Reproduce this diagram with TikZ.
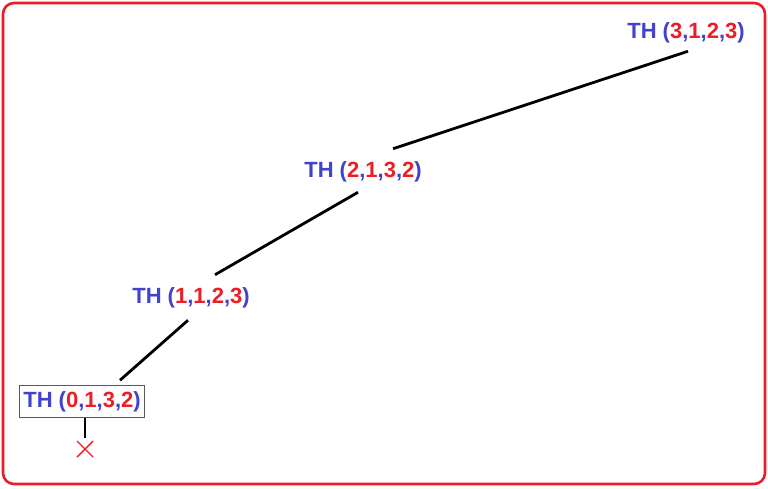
\documentclass[tikz,border=0pt]{standalone}
\usepackage{fontspec}
\setmainfont{Liberation Sans}
\definecolor{tblue}{RGB}{66,66,204}
\definecolor{tred}{RGB}{238,28,36}
\definecolor{frame}{RGB}{232,30,40}
\newcommand{\thlbl}[4]{\textcolor{tblue}{TH (}\textcolor{tred}{#1}\textcolor{tblue}{,}\textcolor{tred}{#2}\textcolor{tblue}{,}\textcolor{tred}{#3}\textcolor{tblue}{,}\textcolor{tred}{#4}\textcolor{tblue}{)}}
\begin{document}
\begin{tikzpicture}[x=1pt,y=-1pt,
  lbl/.style={font=\fontsize{22}{26}\selectfont\bfseries, inner sep=0pt, outer sep=0pt},
  edge/.style={line width=2.8pt, black},
  boxed/.style={draw=black!65, line width=0.8pt, inner xsep=3.5pt, inner ysep=6pt}]
\useasboundingbox (0,0) rectangle (768,488);
\draw[frame, line width=2.6pt, rounded corners=11pt] (3,3) rectangle (765,484);
\node[lbl] (n1) at (686,33) {\thlbl{3}{1}{2}{3}};
\node[lbl] (n2) at (363,172) {\thlbl{2}{1}{3}{2}};
\node[lbl] (n3) at (191,298) {\thlbl{1}{1}{2}{3}};
\node[lbl, boxed] (n4) at (82,401.5) {\thlbl{0}{1}{3}{2}};
\coordinate (x) at (85,449);
\draw[edge] ([shift={(2,8)}]n1.south) -- ([shift={(30,-13)}]n2.north);
\draw[edge] ([shift={(-5,10)}]n2.south) -- ([shift={(24,-13)}]n3.north);
\draw[edge] ([shift={(-3,12)}]n3.south) -- ([shift={(38,-5)}]n4.north);
\draw[line width=1.6pt] ([xshift=3pt]n4.south) -- ([shift={(0,-11)}]x);
\draw[tred, line width=1.4pt] ([shift={(-8,-8)}]x) -- ([shift={(8,8)}]x)
  ([shift={(-8,8)}]x) -- ([shift={(8,-8)}]x);
\end{tikzpicture}
\end{document}
